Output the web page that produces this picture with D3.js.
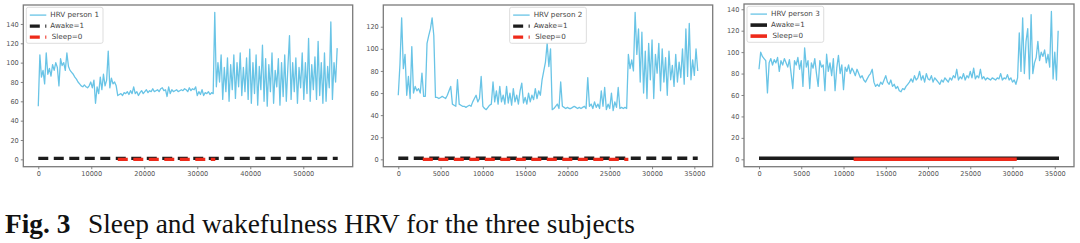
<!DOCTYPE html>
<html>
<head>
<meta charset="utf-8">
<script src="https://cdn.jsdelivr.net/npm/d3@7"></script>
<style>
    html, body { margin: 0; padding: 0; background: #fff; }
    #chart { width: 1080px; height: 243px; }
</style>
</head>
<body>
<div id="chart"></div>
<script>
// HRV samples, one value every `step` seconds
const hrv1Step = 300;
const hrv1 = [
    55, 108, 85, 92, 78, 110, 88, 94, 86, 98, 92, 100, 95, 76, 104, 97, 100, 92, 110, 96, 92,
    90, 88, 85, 83, 80, 78, 76, 75, 77, 75, 74, 76, 80, 74, 82, 58, 75, 68, 85, 72,
    88, 76, 82, 112, 74, 84, 78, 80, 76, 66,
    67, 68, 66, 69, 68, 70, 67, 71, 68, 75, 68, 70, 66, 69, 71, 68, 70, 72, 69, 71,
    70, 73, 70, 71, 72, 70, 73, 74, 71, 72, 65, 75, 68, 72, 70, 71, 72, 70, 71, 72,
    71, 73, 72, 70, 74, 71, 73, 72, 75, 66, 70, 67, 72, 66, 69, 68, 70, 67, 69, 68, 152,
    75, 100, 80, 108, 62, 95, 70, 105, 60, 98, 72, 108, 63, 100, 75, 110, 66, 95, 70,
    105, 62, 114, 58, 100, 68, 108, 56, 96, 72, 118, 60, 104, 55, 98, 70, 110, 58, 92, 75,
    104, 56, 100, 65, 108, 60, 96, 128, 62, 100, 70, 105, 58, 95, 74, 110, 62, 100, 68, 125,
    60, 98, 72, 106, 62, 122, 66, 100, 58, 110, 60, 96, 74, 142, 62, 100, 80, 115
];

const hrv2Step = 200;
const hrv2 = [
    58, 86, 128, 82, 95, 58, 75, 55, 102, 60, 66, 62, 64, 60, 78, 57, 57, 105, 112, 118,
    128, 112, 56, 56, 55, 56, 57, 56, 55, 58, 62, 66, 50, 49, 48, 72, 50, 49, 48, 48,
    47, 48, 49, 48, 52, 55, 58, 52, 55, 75, 48, 46, 45, 47, 49, 50, 70, 52, 62, 50,
    66, 52, 58, 50, 66, 51, 60, 49, 64, 52, 58, 50, 62, 69, 51, 56, 50, 60, 52, 58,
    54, 64, 55, 62, 58, 72, 80, 88, 105, 84, 100, 45, 46, 48, 50, 46, 70, 48, 47, 46,
    47, 46, 46, 47, 48, 47, 46, 47, 46, 47, 48, 46, 74, 48, 50, 46, 52, 47, 50, 46,
    62, 48, 65, 45, 50, 46, 60, 44, 52, 47, 65, 46, 47, 46, 47, 46, 95, 82, 90, 80,
    133, 95, 118, 70, 115, 60, 98, 55, 105, 72, 108, 55, 95, 78, 105, 62, 100, 70, 92, 58,
    98, 72, 85, 66, 95, 70, 88, 74, 100, 68, 118, 75, 123, 72, 90, 76, 100, 80
];

const hrv3Step = 200;
const hrv3 = [
    84, 100, 96, 94, 92, 62, 90, 94, 88, 93, 90, 95, 82, 92, 88, 94, 90, 86, 93, 80,
    66, 92, 88, 95, 84, 92, 68, 104, 86, 92, 66, 90, 85, 94, 80, 68, 92, 86, 88, 64,
    98, 82, 90, 78, 94, 64, 85, 97, 80, 88, 65, 86, 82, 88, 80, 85, 82, 78, 84, 80,
    76, 78, 74, 72, 75, 78, 80, 84, 72, 68, 70, 68, 72, 70, 74, 78, 72, 70, 74, 68,
    70, 66, 68, 64, 63, 66, 65, 68, 70, 72, 75, 72, 78, 74, 76, 82, 74, 78, 72, 80,
    75, 74, 78, 72, 76, 74, 72, 70, 74, 72, 76, 74, 72, 76, 74, 78, 76, 84, 74, 77,
    75, 80, 74, 78, 76, 82, 76, 85, 75, 78, 76, 84, 75, 77, 74, 76, 75, 74, 76, 75,
    74, 76, 75, 80, 74, 76, 75, 79, 74, 76, 72, 74, 70, 76, 118, 82, 132, 80, 110, 122,
    75, 135, 80, 90, 95, 110, 92, 100, 96, 102, 90, 98, 86, 138, 75, 100, 74, 120
];

// Awake (=1) spans the whole record, sleep (=0) the night part: [start, end] in seconds
const awake1 = [0, 56500];
const sleep1 = [15000, 33400];
const awake2 = [0, 35400];
const sleep2 = [2900, 27200];
const awake3 = [0, 35500];
const sleep3 = [11200, 30500];

// Tick values
const xTicks1 = [0, 10000, 20000, 30000, 40000, 50000];
const xTicks2 = [0, 5000, 10000, 15000, 20000, 25000, 30000, 35000];
const xTicks3 = [0, 5000, 10000, 15000, 20000, 25000, 30000, 35000];
const yTicks1 = [0, 20, 40, 60, 80, 100, 120, 140];
const yTicks2 = [0, 20, 40, 60, 80, 100, 120];
const yTicks3 = [0, 20, 40, 60, 80, 100, 120, 140];

const legendLabels = ["Awake=1", "Sleep=0"];

const hrvColor = "#69c4e6";
const awakeColor = "#1c1c1c";
const sleepColor = "#ee2a1a";
const tickFont = "DejaVu Sans, sans-serif";

const svg = d3.select("#chart")
    .append("svg")
    .attr("width", 1080)
    .attr("height", 243)
    .attr("viewBox", "0 0 1080 243");

// Draw one subplot
function drawPanel(p) {
    const xMax = p.awake[1];
    const yMax = d3.max(p.values);
    const xPad = xMax * 0.05;
    const yPad = yMax * 0.05;

    const x = d3.scaleLinear()
        .domain([-xPad, xMax + xPad])
        .range([p.left, p.right]);
    const y = d3.scaleLinear()
        .domain([-yPad, yMax + yPad])
        .range([p.bottom, p.top]);

    const g = svg.append("g");

    // clip so nothing leaks out of the frame
    const clipId = "clip-" + p.id;
    g.append("clipPath").attr("id", clipId)
        .append("rect")
        .attr("x", p.left).attr("y", p.top)
        .attr("width", p.right - p.left).attr("height", p.bottom - p.top);

    const plot = g.append("g").attr("clip-path", `url(#${clipId})`);

    const line = d3.line()
        .x((d, i) => x(i * p.step))
        .y(d => y(d));

    plot.append("path")
        .datum(p.values)
        .attr("fill", "none")
        .attr("stroke", hrvColor)
        .attr("stroke-width", 1.3)
        .attr("stroke-linejoin", "round")
        .attr("d", line);

    // awake / sleep bars
    const dash = p.dashed ? "10,5.5" : null;
    const stateWidth = p.dashed ? 3.3 : 3.6;

    plot.append("line")
        .attr("x1", x(p.awake[0])).attr("x2", x(p.awake[1]))
        .attr("y1", y(1)).attr("y2", y(1))
        .attr("stroke", awakeColor)
        .attr("stroke-width", stateWidth)
        .attr("stroke-dasharray", dash);

    plot.append("line")
        .attr("x1", x(p.sleep[0])).attr("x2", x(p.sleep[1]))
        .attr("y1", y(0)).attr("y2", y(0))
        .attr("stroke", sleepColor)
        .attr("stroke-width", stateWidth)
        .attr("stroke-dasharray", dash);

    // axes
    const xAxis = g.append("g")
        .attr("transform", `translate(0,${p.bottom})`)
        .call(d3.axisBottom(x).tickValues(p.xTicks).tickSize(2.5).tickPadding(2).tickFormat(d3.format("d")));
    const yAxis = g.append("g")
        .attr("transform", `translate(${p.left},0)`)
        .call(d3.axisLeft(y).tickValues(p.yTicks).tickSize(2.5).tickPadding(2).tickFormat(d3.format("d")));

    [xAxis, yAxis].forEach(a => {
        a.select(".domain").remove();
        a.selectAll(".tick line").attr("stroke", "#666").attr("stroke-width", 0.8);
        a.selectAll(".tick text")
            .attr("fill", "#555")
            .style("font-family", tickFont)
            .style("font-size", "6.6px");
    });

    // frame
    g.append("rect")
        .attr("x", p.left).attr("y", p.top)
        .attr("width", p.right - p.left).attr("height", p.bottom - p.top)
        .attr("fill", "none")
        .attr("stroke", "#7a7a7a")
        .attr("stroke-width", 1.3);

    drawLegend(g, p);
}

// Legend box in the upper left / upper center
function drawLegend(g, p) {
    const labels = [p.label].concat(legendLabels);
    const lg = g.append("g");

    const box = lg.append("rect")
        .attr("fill", "#fff")
        .attr("fill-opacity", 0.85)
        .attr("stroke", "#d4d4d4")
        .attr("stroke-width", 0.8)
        .attr("rx", 2);

    const texts = lg.selectAll("text")
        .data(labels)
        .join("text")
        .attr("x", (d, i) => i === 2 ? 25.5 : 24)
        .attr("y", (d, i) => 10.2 + i * 11)
        .attr("fill", "#444")
        .style("font-family", tickFont)
        .style("font-size", "7.2px")
        .text(d => d);

    let maxW = 0;
    texts.each(function () { maxW = Math.max(maxW, this.getComputedTextLength()); });
    const w = 24 + maxW + 4;
    box.attr("width", w).attr("height", 36);

    const colors = [hrvColor, awakeColor, sleepColor];
    lg.selectAll("line")
        .data(labels)
        .join("line")
        .attr("x1", 3.5).attr("x2", 20)
        .attr("y1", (d, i) => 7.8 + i * 11)
        .attr("y2", (d, i) => 7.8 + i * 11)
        .attr("stroke", (d, i) => colors[i])
        .attr("stroke-width", (d, i) => i === 0 ? 1.3 : (p.dashed ? 3.3 : 3.6))
        .attr("stroke-dasharray", (d, i) => (i > 0 && p.dashed) ? "10,5.5" : null);

    const bx = p.legend === "center" ? (p.left + p.right) / 2 - w / 2 : p.left + 3;
    lg.attr("transform", `translate(${bx},${p.top + 2.3})`);
}

const panels = [
    { id: 1, values: hrv1, step: hrv1Step, awake: awake1, sleep: sleep1, xTicks: xTicks1, yTicks: yTicks1,
      label: "HRV person 1", left: 23.3, right: 352.7, top: 5, bottom: 166.7, legend: "left", dashed: true },
    { id: 2, values: hrv2, step: hrv2Step, awake: awake2, sleep: sleep2, xTicks: xTicks2, yTicks: yTicks2,
      label: "HRV person 2", left: 383.3, right: 712.7, top: 5, bottom: 166.7, legend: "center", dashed: true },
    { id: 3, values: hrv3, step: hrv3Step, awake: awake3, sleep: sleep3, xTicks: xTicks3, yTicks: yTicks3,
      label: "HRV person 3", left: 744, right: 1074, top: 4, bottom: 166.7, legend: "left", dashed: false }
];

panels.forEach(drawPanel);

// Caption
const caption = svg.append("text")
    .attr("x", 5)
    .attr("y", 233)
    .attr("fill", "#111")
    .style("font-family", "Liberation Serif, Times New Roman, serif")
    .style("font-size", "26px");
caption.append("tspan").style("font-weight", "bold").text("Fig. 3");
const capBody = caption.append("tspan")
    .attr("x", 88)
    .text("Sleep and wakefulness HRV for the three subjects");

// fit the caption width to the original (ends around x=635)
const capLen = capBody.node().getComputedTextLength();
caption.style("font-size", (26 * 547 / capLen).toFixed(2) + "px");
</script>
</body>
</html>
